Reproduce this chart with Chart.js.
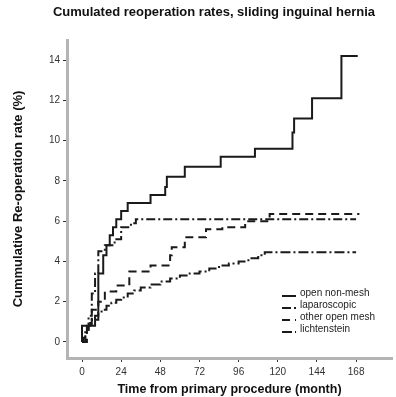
<!DOCTYPE html>
<html><head><meta charset="utf-8">
<script src="https://cdn.jsdelivr.net/npm/chart.js@4.4.1/dist/chart.umd.min.js"></script>
<style>
html,body{margin:0;padding:0;background:#fff}
#wrap{position:relative;width:396px;height:397px}
#title{position:absolute;left:214px;top:4px;transform:translateX(-50%);white-space:nowrap;
  font:bold 13px "Liberation Sans",Arial,sans-serif;color:#111}
</style>
</head><body><div id="wrap"><div id="title">Cumulated reoperation rates, sliding inguinal hernia</div><canvas id="c"></canvas></div>
<script>
const groups = ['open non-mesh', 'laparoscopic', 'other open mesh', 'lichtenstein'];

// months / cumulative %
const openT = [0, 0, 8, 10, 13, 15, 17, 19, 21, 24, 28, 42, 51, 52, 63, 85, 106, 129, 130, 141, 159, 169];
const openV = [0, 0.8, 1.1, 3.4, 4.3, 4.8, 5.3, 5.7, 6.1, 6.5, 6.9, 7.3, 7.7, 8.2, 8.7, 9.2, 9.6, 10.4, 11.1, 12.1, 14.2, 14.2];
const lapT = [0, 2, 4, 6, 8, 10, 14, 20, 24, 30, 33, 168];
const lapV = [0, 0.6, 1.3, 2.4, 3.4, 4.5, 4.8, 5.1, 5.7, 5.9, 6.1, 6.1];
const otherT = [0, 3, 6, 10, 14, 21, 29, 42, 54, 55, 63, 76, 86, 100, 115, 170];
const otherV = [0, 0.8, 1.6, 2.0, 2.5, 2.8, 3.5, 3.8, 4.3, 4.7, 5.2, 5.6, 5.7, 6.0, 6.35, 6.35];
const lichT = [0, 1, 2, 3, 4, 5, 6, 8, 10, 12, 15, 18, 21, 24, 28, 32, 36, 42, 48, 54, 60, 66, 72, 78, 84, 90, 96, 102, 108, 112, 168];
const lichV = [0, 0.2, 0.4, 0.6, 0.8, 1.0, 1.1, 1.3, 1.45, 1.6, 1.8, 1.95, 2.1, 2.2, 2.4, 2.55, 2.7, 2.85, 3.0, 3.15, 3.3, 3.4, 3.5, 3.65, 3.8, 3.9, 4.0, 4.15, 4.3, 4.45, 4.45];

const xTicks = [0, 24, 48, 72, 96, 120, 144, 168];
const yTicks = [0, 2, 4, 6, 8, 10, 12, 14];

const INK = '#1a1a1a', AXIS = '#b4b4b4';
const FONT = '"Liberation Sans", Arial, sans-serif';
const dashes = [[], [9, 3, 2, 3], [8, 5], [10, 3, 2, 3]];
const series = [[openT, openV], [lapT, lapV], [otherT, otherV], [lichT, lichV]];

const pts = (t, v) => t.map((x, i) => ({ x, y: v[i] }));

const legendBox = {
  id: 'legendBox',
  afterDatasetsDraw(chart) {
    const { ctx, chartArea: a } = chart;
    ctx.save();
    ctx.font = '10px ' + FONT;
    ctx.textBaseline = 'middle';
    groups.forEach((g, i) => {
      const y = a.bottom - 65 + i * 12;
      const x = a.right - 110;
      ctx.strokeStyle = INK;
      ctx.lineWidth = 2;
      ctx.setLineDash(dashes[i]);
      ctx.beginPath(); ctx.moveTo(x, y + 3); ctx.lineTo(x + 14, y + 3); ctx.stroke();
      ctx.setLineDash([]);
      ctx.fillStyle = '#222';
      ctx.fillText(g, x + 18, y);
    });
    ctx.restore();
  }
};

new Chart(document.getElementById('c'), {
  type: 'line',
  data: {
    datasets: series.map((s, i) => ({
      label: groups[i],
      data: pts(s[0], s[1]),
      stepped: 'before',   // hold previous value until the next event time
      borderColor: INK,
      borderWidth: 2,
      borderDash: dashes[i],
      pointRadius: 0,
      fill: false
    }))
  },
  options: {
    responsive: true,
    maintainAspectRatio: false,
    animation: false,
    layout: { padding: { top: 40, right: 4, left: 0, bottom: 0 } },
    plugins: {
      legend: { display: false },
      tooltip: { enabled: false },
      title: { display: false }
    },
    scales: {
      x: {
        type: 'linear', min: -9.2, max: 190,
        afterBuildTicks: s => { s.ticks = xTicks.map(v => ({ value: v })); },
        afterFit: s => { s.height = 39; },
        grid: { drawOnChartArea: false, drawTicks: true, tickLength: 4, color: '#333' },
        border: { display: true, color: AXIS, width: 3 },
        ticks: { color: '#333', font: { family: FONT, size: 10 }, padding: 4, maxRotation: 0 },
        title: { display: true, text: 'Time from primary procedure (month)', color: '#111',
          font: { family: FONT, size: 12.5, weight: 'bold' }, padding: { top: 1, bottom: 0 } }
      },
      y: {
        type: 'linear', min: -0.8, max: 15,
        afterBuildTicks: s => { s.ticks = yTicks.map(v => ({ value: v })); },
        afterFit: s => { s.width = 67; },
        grid: { drawOnChartArea: false, drawTicks: true, tickLength: 4, color: '#333' },
        border: { display: true, color: AXIS, width: 3 },
        ticks: { color: '#333', font: { family: FONT, size: 10 }, padding: 3 },
        title: { display: true, text: 'Cummulative Re-operation rate (%)', color: '#111',
          font: { family: FONT, size: 13, weight: 'bold' }, padding: { top: 11, bottom: 0 } }
      }
    }
  },
  plugins: [legendBox]
});
</script>
</body></html>
